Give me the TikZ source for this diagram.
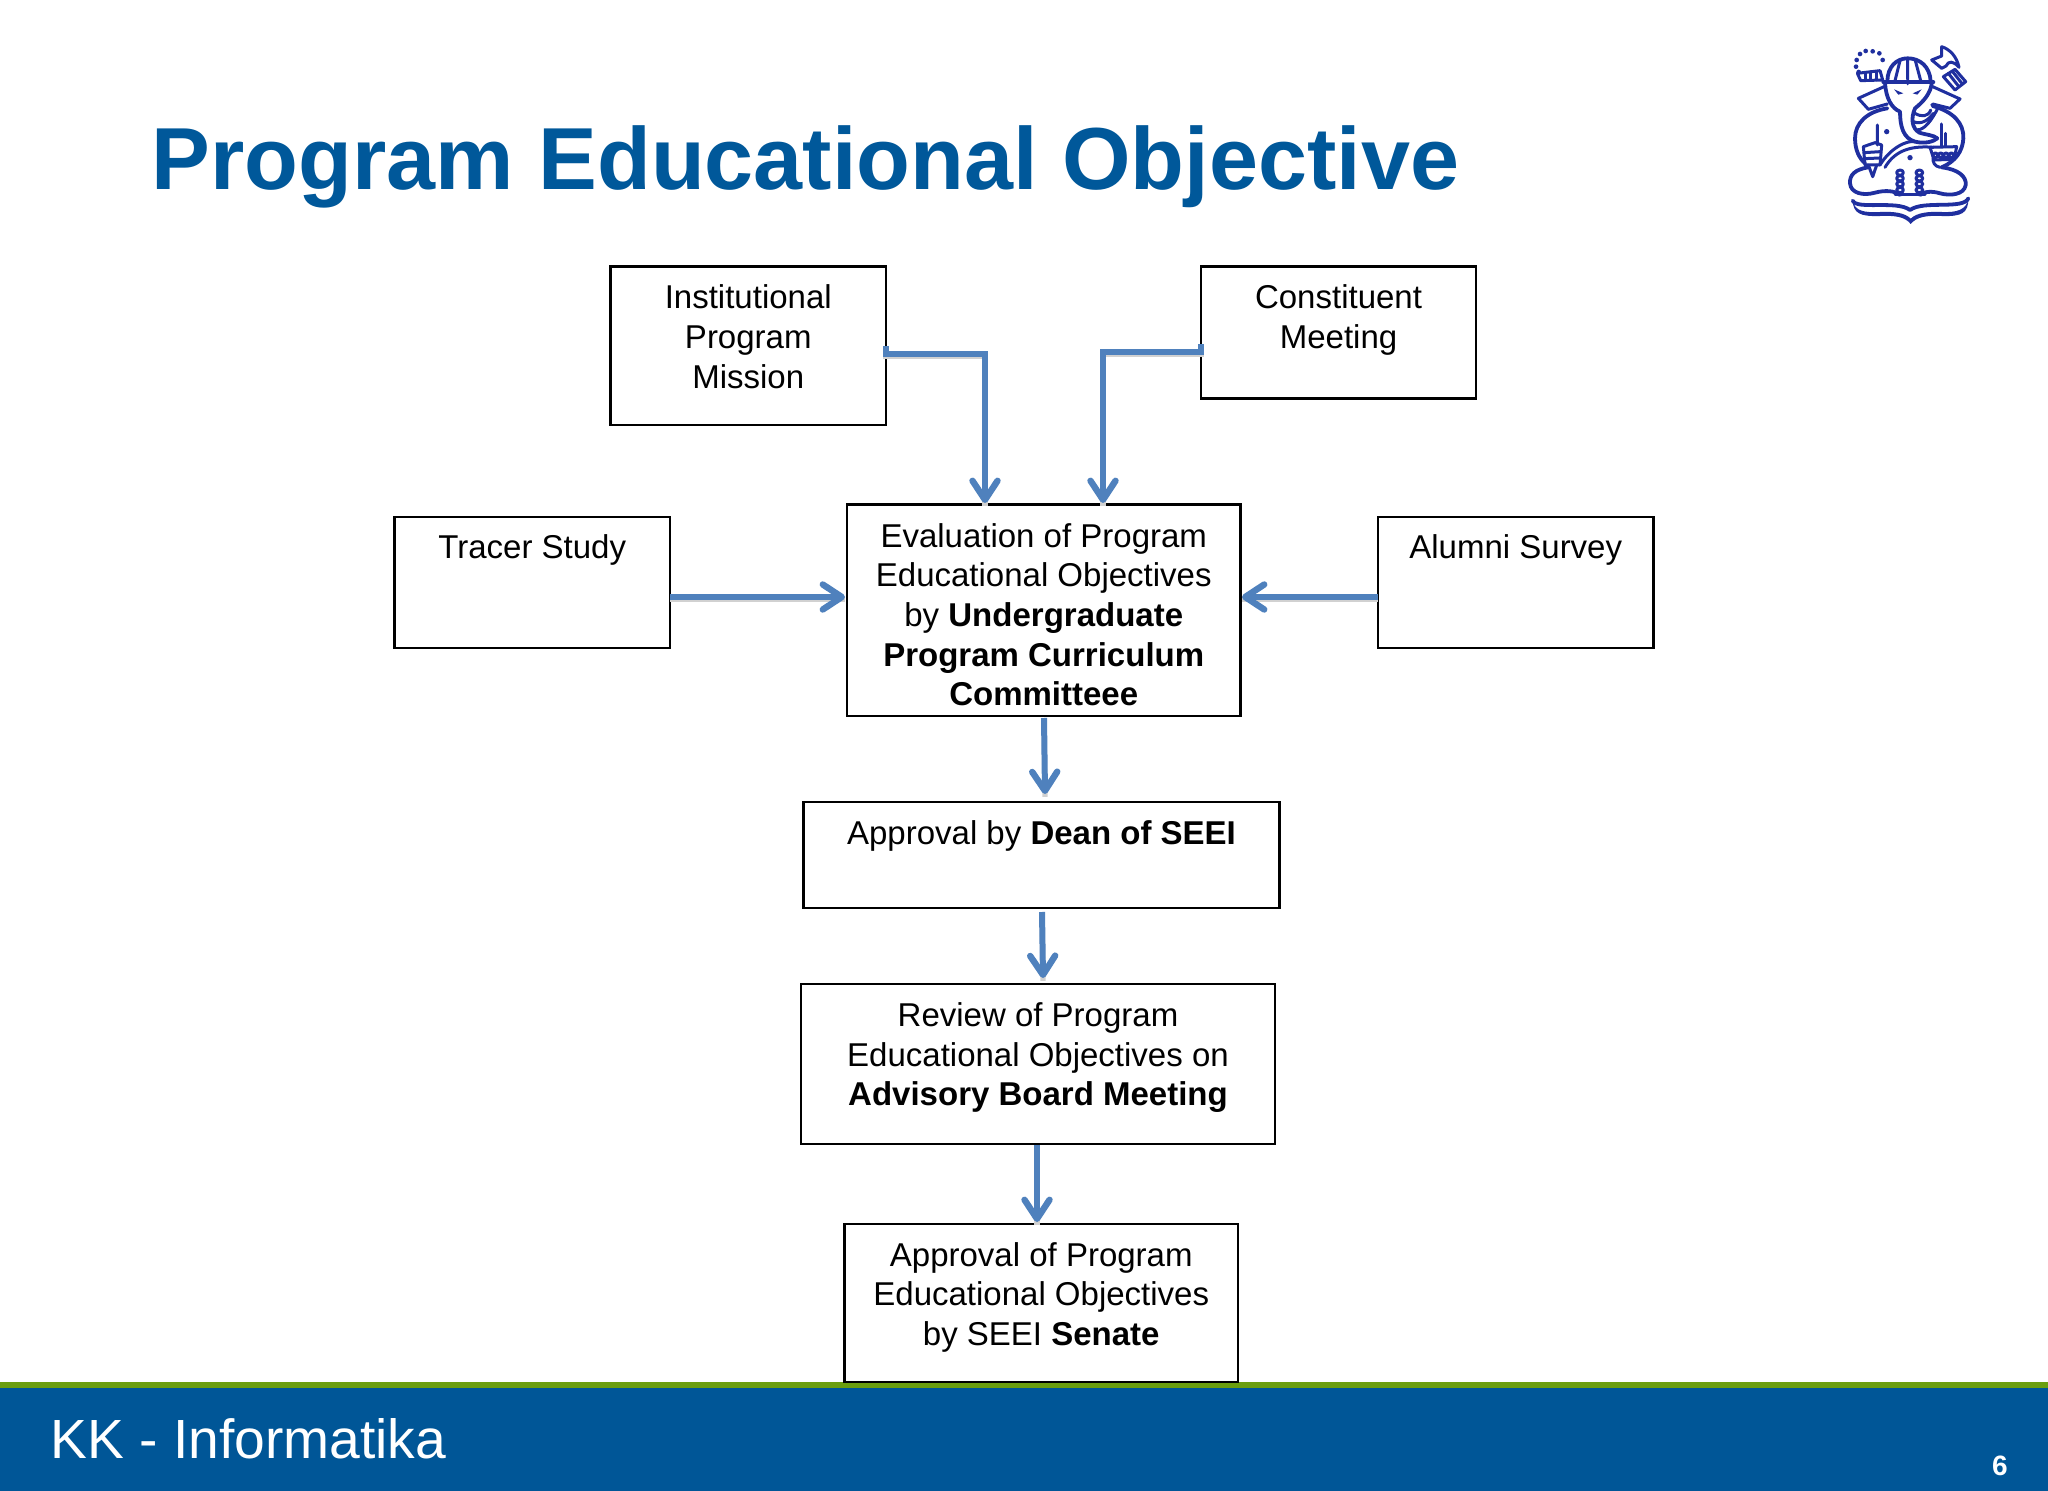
\documentclass[tikz,border=0pt]{standalone}
\usepackage{fontspec}
\setmainfont{Liberation Sans}
\usetikzlibrary{arrows.meta}
\definecolor{titleblue}{HTML}{00589A}
\definecolor{bandblue}{HTML}{005697}
\definecolor{bandgreen}{HTML}{6B9E0F}
\definecolor{arrowblue}{HTML}{4F81BD}
\definecolor{logoblue}{HTML}{1F2F9F}
\tikzset{
  flowbox/.style={draw=black,line width=1.25pt,fill=white,inner sep=0pt,outer sep=0pt},
  flowtext/.style={anchor=north,align=center,inner sep=0pt,outer sep=0pt,font=\fontsize{16.5pt}{19.85pt}\selectfont,text=black},
  flow/.style={draw=arrowblue,line width=3pt,line join=miter,
    -{Straight Barb[length=9.5pt,width=12.5pt,line width=3.2pt,round]},
    preaction={draw=black!18,line width=2.6pt,transform canvas={yshift=-1.4pt},-}},
  logoline/.style={draw=logoblue,line width=1.5pt,line cap=round,line join=round},
  logothick/.style={logoline,line width=1.9pt},
  logodot/.style={fill=logoblue,draw=none}
}
% name, x1, y1, x2, y2, first baseline, text
\newcommand{\flowbox}[7]{%
  \node[flowbox,minimum width={(#4-#2)*0.5pt},minimum height={(#5-#3)*0.5pt}] (#1) at ({(#2+#4)/2},{(#3+#5)/2}) {};
  \node[flowtext] (#1text) at ({(#2+#4)/2},{#6-24}) {\rule{0pt}{12pt}#7};
}
\begin{document}
\begin{tikzpicture}[x=0.5pt,y=-0.5pt]
\useasboundingbox (0,0) rectangle (2048,1491);
\fill[white] (0,0) rectangle (2048,1491);
% title
\node[anchor=base west,inner sep=0pt,text=titleblue,font=\fontsize{44.05pt}{50pt}\selectfont\bfseries] (title) at (151.5,190) {Program Educational Objective};
% footer band
\fill[bandblue] (0,1386) rectangle (2048,1491);
\fill[bandgreen] (0,1382) rectangle (2048,1388);
\node[anchor=base west,inner sep=0pt,text=white,font=\fontsize{27.6pt}{32pt}\selectfont] (footer) at (50,1458) {KK - Informatika};
\node[anchor=base,inner sep=0pt,text=white,font=\fontsize{14pt}{16pt}\selectfont\bfseries] (pagenum) at (2000,1475) {6};
% boxes
\flowbox{mission}{610.5}{266.5}{886}{425}{309}{Institutional\\Program\\Mission}
\flowbox{meeting}{1201}{266.5}{1476}{398.5}{309}{Constituent\\Meeting}
\flowbox{tracer}{394.5}{517}{670}{648}{559}{Tracer Study}
\flowbox{alumni}{1378}{517}{1653.5}{648}{559}{Alumni Survey}
\flowbox{eval}{847}{504.5}{1240.5}{716}{547}{Evaluation of Program\\Educational Objectives\\by \textbf{Undergraduate}\\\textbf{Program Curriculum}\\\textbf{Committeee}}
\flowbox{dean}{803.5}{802}{1279.5}{908}{844}{Approval by \textbf{Dean of SEEI}}
\flowbox{review}{801}{984}{1275}{1144}{1026.5}{Review of Program\\Educational Objectives on\\\textbf{Advisory Board Meeting}}
\flowbox{senate}{844.5}{1224}{1238}{1382}{1266}{Approval of Program\\Educational Objectives\\by SEEI \textbf{Senate}}
% connector ends
\coordinate (m0) at (886,346);
\coordinate (m1) at (985,354);
\coordinate (m2) at (985,503);
\coordinate (c0) at (1201,344);
\coordinate (c1) at (1103,352);
\coordinate (c2) at (1103,503);
\coordinate (t0) at (670,597);
\coordinate (t1) at (845,597);
\coordinate (a0) at (1378,597);
\coordinate (a1) at (1242,597);
\coordinate (e0) at (1044,718);
\coordinate (e1) at (1045,794);
\coordinate (d0) at (1042,912);
\coordinate (d1) at (1043,978);
\coordinate (r0) at (1037,1145);
\coordinate (r1) at (1037,1222);
% connectors
\draw[flow] (m0) -- (m0 |- m1) -- (m1) -- (m2);
\draw[flow] (c0) -- (c0 |- c1) -- (c1) -- (c2);
\draw[flow] (t0) -- (t1);
\draw[flow] (a0) -- (a1);
\draw[flow] (e0) -- (e1);
\draw[flow] (d0) -- (d1);
\draw[flow] (r0) -- (r1);
% logo
\begin{scope}[shift={(1800,30)},x=0.16667pt,y=-0.16667pt]
  % halo beads
  \foreach \px/\py in {168/110,170/90,180/72,197/63,218/64,238/70,248/90,176/126}
    \fill[logodot] (\px,\py) circle (7);
  % upper left hand
  \draw[logoline] (172,130) -- (240,122) -- (248,150) -- (182,152) -- cycle;
  \draw[logoline] (195,128) -- (195,150) (212,126) -- (212,150) (228,124) -- (228,150);
  % head-dress
  \draw[logothick] (262,155) .. controls (262,110) and (290,85) .. (323,85) .. controls (360,85) and (390,110) .. (392,155);
  \draw[logoline] (323,85) -- (323,148) (300,92) -- (285,152) (346,92) -- (362,152);
  \draw[logothick] (250,157) -- (400,157);
  \fill[logodot] (323,150) -- (330,158) -- (323,166) -- (316,158) -- cycle;
  % ears
  \draw[logoline] (252,170) -- (175,205) -- (205,238) -- (262,222);
  \draw[logoline] (398,170) -- (480,207) -- (450,235) -- (398,222);
  % axe and upper right hand
  \draw[logoline] (395,90) -- (425,78) -- (425,50) .. controls (450,58) and (470,80) .. (477,112) .. controls (460,92) and (445,92) .. (438,108) -- (425,115) -- cycle;
  \draw[logoline] (430,140) -- (465,118) -- (497,155) -- (465,180) -- cycle;
  \draw[logoline] (445,130) -- (475,168) (457,124) -- (487,162);
  % face and trunk
  \draw[logothick] (255,160) .. controls (258,205) and (275,235) .. (300,245) .. controls (300,290) and (310,325) .. (345,335) .. controls (375,342) and (400,335) .. (412,325);
  \draw[logothick] (395,160) .. controls (392,190) and (370,215) .. (345,235) .. controls (332,265) and (335,295) .. (358,308) .. controls (380,315) and (400,315) .. (412,325);
  \fill[logodot] (282,178) -- (310,190) -- (295,194) -- cycle;
  \fill[logodot] (365,178) -- (338,190) -- (352,194) -- cycle;
  % sash
  \draw[logoline] (345,250) .. controls (365,262) and (385,260) .. (392,240) (340,275) .. controls (365,285) and (385,270) .. (400,250) (350,300) .. controls (375,300) and (395,270) .. (415,232) (395,225) -- (418,232);
  % body
  \draw[logothick] (262,235) .. controls (200,245) and (165,280) .. (165,325) .. controls (165,360) and (178,385) .. (195,400);
  \draw[logothick] (398,228) .. controls (460,245) and (492,280) .. (490,325) .. controls (488,365) and (465,395) .. (425,412);
  \fill[logodot] (260,305) circle (8);
  \fill[logodot] (330,383) circle (8);
  % lower sash
  \draw[logoline] (240,405) .. controls (270,355) and (320,330) .. (345,335) (255,412) .. controls (280,370) and (320,345) .. (400,352);
  \draw[logoline] (400,380) .. controls (395,395) and (405,410) .. (420,412);
  % lower left hand with goad
  \draw[logoline] (190,350) -- (225,338) -- (245,345) -- (240,405) -- (195,405) -- cycle;
  \draw[logoline] (192,368) -- (240,365) (192,386) -- (240,384);
  \draw[logoline] (232,285) -- (232,345) (205,405) -- (218,440) -- (230,405);
  % bowl
  \draw[logoline] (390,352) -- (470,350) -- (462,388) -- (402,390) -- cycle;
  \draw[logoline] (423,282) -- (423,350) (437,310) -- (437,350);
  \foreach \px in {402,418,434,450}
    \draw[logoline] (\px+4,376) circle (7);
  % legs
  \draw[logothick] (205,412) .. controls (165,418) and (148,435) .. (150,460) .. controls (152,490) and (190,498) .. (225,488) .. controls (255,480) and (285,482) .. (300,495);
  \draw[logothick] (425,412) .. controls (475,418) and (500,440) .. (497,465) .. controls (492,495) and (450,498) .. (420,490) .. controls (395,482) and (370,485) .. (360,495);
  \draw[logoline] (285,495) -- (375,495);
  % beads
  \foreach \py in {428,445,462,480} {
    \draw[logoline] (300,\py) ellipse (10 and 8);
    \draw[logoline] (358,\py) ellipse (10 and 8);
  }
  % book
  \draw[logothick] (158,512) .. controls (170,540) and (290,510) .. (330,540) .. controls (370,510) and (490,540) .. (505,505);
  \fill[logoblue] (158,512) .. controls (160,550) and (180,560) .. (240,558) .. controls (285,556) and (315,560) .. (332,582) .. controls (350,560) and (380,556) .. (425,558) .. controls (485,560) and (505,550) .. (505,505) .. controls (500,540) and (470,548) .. (425,546) .. controls (385,544) and (350,548) .. (332,566) .. controls (315,548) and (280,544) .. (240,546) .. controls (195,548) and (165,545) .. (158,512) -- cycle;
\end{scope}
\end{tikzpicture}
\end{document}
